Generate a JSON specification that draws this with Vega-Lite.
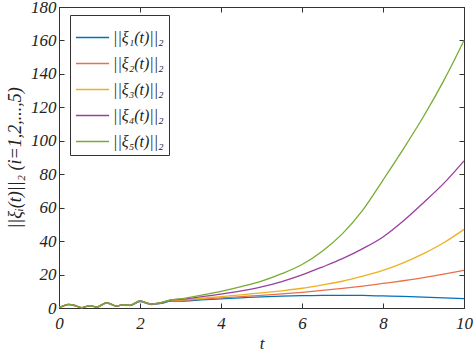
{
  "$schema": "https://vega.github.io/schema/vega-lite/v6.json",
  "width": 405,
  "height": 301,
  "autosize": {"type": "none"},
  "padding": {"left": 59, "top": 7, "right": 10, "bottom": 44},
  "background": "white",
  "config": {
    "view": {"stroke": "#333333", "strokeWidth": 1}
  },
  "data": {
    "values": [
      {"t": 0, "s1": 0.2, "s2": 0.3, "s3": 0.3, "s4": 0.3, "s5": 0.4},
      {"t": 0.12, "s1": 1.2, "s2": 1.3, "s3": 1.3, "s4": 1.4, "s5": 1.4},
      {"t": 0.23, "s1": 2.0, "s2": 2.1, "s3": 2.1, "s4": 2.2, "s5": 2.2},
      {"t": 0.4, "s1": 1.3, "s2": 1.4, "s3": 1.4, "s4": 1.5, "s5": 1.5},
      {"t": 0.56, "s1": 0.2, "s2": 0.2, "s3": 0.2, "s4": 0.2, "s5": 0.2},
      {"t": 0.76, "s1": 1.3, "s2": 1.4, "s3": 1.4, "s4": 1.4, "s5": 1.4},
      {"t": 0.93, "s1": 0.5, "s2": 0.6, "s3": 0.6, "s4": 0.6, "s5": 0.6},
      {"t": 1.18, "s1": 3.0, "s2": 3.1, "s3": 3.1, "s4": 3.2, "s5": 3.2},
      {"t": 1.42, "s1": 1.1, "s2": 1.2, "s3": 1.2, "s4": 1.2, "s5": 1.2},
      {"t": 1.59, "s1": 1.9, "s2": 2.0, "s3": 2.0, "s4": 2.0, "s5": 2.0},
      {"t": 1.75, "s1": 1.5, "s2": 1.6, "s3": 1.6, "s4": 1.6, "s5": 1.6},
      {"t": 2.0, "s1": 3.8, "s2": 4.1, "s3": 4.1, "s4": 4.2, "s5": 4.2},
      {"t": 2.28, "s1": 2.1, "s2": 2.4, "s3": 2.4, "s4": 2.4, "s5": 2.4},
      {"t": 2.53, "s1": 2.8, "s2": 3.1, "s3": 3.2, "s4": 3.2, "s5": 3.3},
      {"t": 2.77, "s1": 4.1, "s2": 4.5, "s3": 4.7, "s4": 4.8, "s5": 4.9},
      {"t": 3.1, "s1": 4.2, "s2": 4.7, "s3": 5.0, "s4": 5.4, "s5": 5.8},
      {"t": 3.5, "s1": 4.8, "s2": 5.3, "s3": 5.8, "s4": 6.7, "s5": 7.6},
      {"t": 4.0, "s1": 5.5, "s2": 6.0, "s3": 6.8, "s4": 8.3, "s5": 10.0},
      {"t": 4.5, "s1": 6.1, "s2": 6.8, "s3": 7.9, "s4": 10.2, "s5": 12.8},
      {"t": 5.0, "s1": 6.7, "s2": 7.6, "s3": 9.0, "s4": 12.6, "s5": 16.0},
      {"t": 5.5, "s1": 7.1, "s2": 8.5, "s3": 10.3, "s4": 15.8, "s5": 20.5},
      {"t": 6.0, "s1": 7.4, "s2": 9.4, "s3": 11.8, "s4": 19.8, "s5": 26.0},
      {"t": 6.5, "s1": 7.6, "s2": 10.5, "s3": 13.8, "s4": 24.5, "s5": 34.0},
      {"t": 7.0, "s1": 7.6, "s2": 11.7, "s3": 16.0, "s4": 29.5, "s5": 44.5},
      {"t": 7.5, "s1": 7.5, "s2": 13.1, "s3": 19.0, "s4": 35.5, "s5": 58.5},
      {"t": 8.0, "s1": 7.2, "s2": 14.7, "s3": 22.5, "s4": 42.5, "s5": 76.5},
      {"t": 8.5, "s1": 6.9, "s2": 16.3, "s3": 27.0, "s4": 52.0, "s5": 95.0},
      {"t": 9.0, "s1": 6.5, "s2": 18.1, "s3": 32.5, "s4": 63.0, "s5": 114.5},
      {"t": 9.5, "s1": 6.1, "s2": 20.2, "s3": 39.0, "s4": 74.5, "s5": 136.0},
      {"t": 10.0, "s1": 5.6, "s2": 22.5, "s3": 47.0, "s4": 88.0, "s5": 160.0}
    ]
  },
  "transform": [
    {"fold": ["s1", "s2", "s3", "s4", "s5"], "as": ["series", "value"]}
  ],
  "resolve": {"scale": {"x": "independent", "y": "independent"}, "axis": {"x": "independent", "y": "independent"}},
  "layer": [
    {
      "mark": {"type": "line", "strokeWidth": 1.3, "interpolate": "monotone"},
      "encoding": {
        "x": {
          "field": "t", "type": "quantitative",
          "scale": {"domain": [0, 10], "nice": false},
          "axis": {
            "values": [0, 2, 4, 6, 8, 10], "grid": false, "tickSize": -5,
            "domainColor": "#333333", "tickColor": "#333333",
            "labelFont": "Liberation Serif", "labelFontStyle": "italic", "labelFontSize": 17,
            "labelColor": "#222222", "labelPadding": 12, "labelFlush": false,
            "title": "t", "titleFont": "Liberation Serif", "titleFontStyle": "italic",
            "titleFontWeight": "normal", "titleFontSize": 17, "titlePadding": 4, "titleColor": "#222222"
          }
        },
        "y": {
          "field": "value", "type": "quantitative",
          "scale": {"domain": [0, 180], "nice": false},
          "axis": {
            "values": [0, 20, 40, 60, 80, 100, 120, 140, 160, 180], "grid": false, "tickSize": -5,
            "domainColor": "#333333", "tickColor": "#333333",
            "labelFont": "Liberation Serif", "labelFontStyle": "italic", "labelFontSize": 17,
            "labelColor": "#222222", "labelPadding": 8, "labelFlush": false,
            "title": "||ξᵢ(t)||₂ (i=1,2,...,5)", "titleFont": "Liberation Serif", "titleFontStyle": "italic",
            "titleFontWeight": "normal", "titleFontSize": 18, "titlePadding": 6, "titleColor": "#222222"
          }
        },
        "color": {
          "field": "series", "type": "nominal",
          "scale": {"domain": ["s1", "s2", "s3", "s4", "s5"], "range": ["#0072BD", "#E8704A", "#EDB120", "#9A3FA0", "#77AC30"]},
          "legend": {
            "orient": "none", "legendX": 11, "legendY": 8, "title": null,
            "symbolType": "stroke", "symbolSize": 1100, "symbolStrokeWidth": 1.5,
            "labelExpr": "'||ξ' + ['₁','₂','₃','₄','₅'][indexof(['s1','s2','s3','s4','s5'], datum.value)] + '(t)||₂'",
            "labelFont": "Liberation Serif", "labelFontStyle": "italic", "labelFontSize": 16, "labelColor": "#222222",
            "labelOffset": 3,
            "rowPadding": -8, "strokeColor": "#333333", "fillColor": "white", "padding": 5
          }
        }
      }
    },
    {
      "mark": {"type": "point", "opacity": 0},
      "encoding": {
        "x": {
          "field": "t", "type": "quantitative",
          "scale": {"domain": [0, 10], "nice": false},
          "axis": {"orient": "top", "values": [0, 2, 4, 6, 8, 10], "grid": false, "tickSize": -5, "labels": false, "title": null, "domain": true, "domainColor": "#333333", "tickColor": "#333333"}
        },
        "y": {
          "field": "value", "type": "quantitative",
          "scale": {"domain": [0, 180], "nice": false},
          "axis": {"orient": "right", "values": [0, 20, 40, 60, 80, 100, 120, 140, 160, 180], "grid": false, "tickSize": -5, "labels": false, "title": null, "domain": true, "domainColor": "#333333", "tickColor": "#333333"}
        }
      }
    }
  ]
}
